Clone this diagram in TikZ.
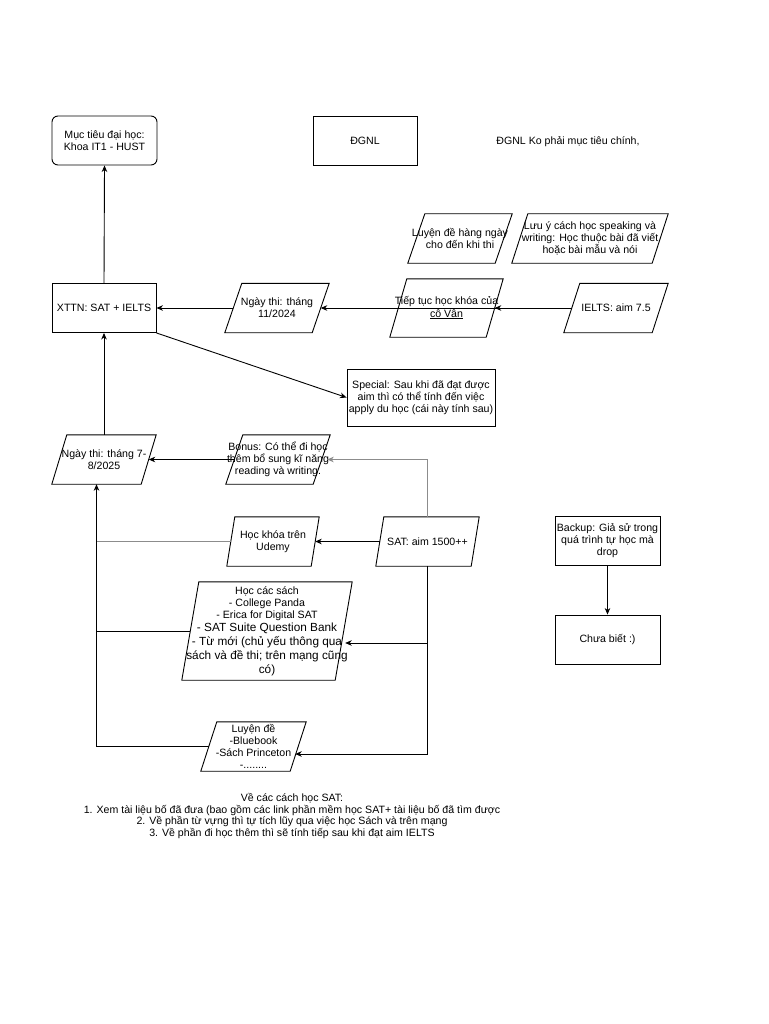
\documentclass[tikz,border=0pt]{standalone}
\usepackage{fontspec}
\setmainfont{Liberation Sans}
\usetikzlibrary{arrows.meta, positioning}

\definecolor{linegray}{HTML}{8C8C8C}

\tikzset{
  box/.style={draw, rectangle, line width=0.9pt, minimum width=104pt, minimum height=49pt, inner sep=0pt, align=center},
  goalbox/.style={box, rounded corners=6pt},
  para/.style={rectangle, minimum width=104pt, minimum height=49pt, inner sep=0pt, align=center},
  flow/.style={-{Stealth[length=6.5pt,width=5.5pt,inset=2pt]}, line width=0.9pt},
  link/.style={line width=0.9pt},
}

\begin{document}
\begin{tikzpicture}[x=1pt, y=-1pt, font=\fontsize{10.6}{12.2}\selectfont]
  \path[use as bounding box, fill=white] (0,0) rectangle (768,1024);

  % Nodes for the goal and the IELTS branch
  \node[goalbox, minimum width=105pt] (goal) at (104.5,140.5) {Mục tiêu đại học:\\Khoa IT1 - HUST};
  \node[box] (dgnl) at (365,140.5) {ĐGNL};
  \node (dgnlnote) at (568,142) {ĐGNL Ko phải mục tiêu chính,};
  \node[para] (dailytest) at (460,238.5) {Luyện đề hàng ngày\\cho đến khi thi};
  \node[para, minimum width=156pt] (speaking) at (590,238.5) {Lưu ý cách học speaking và\\writing: Học thuộc bài đã viết\\hoặc bài mẫu và nói};
  \node[box] (xttn) at (104,308) {XTTN: SAT + IELTS};
  \node[para] (exam24) at (277,308) {Ngày thi: tháng\\11/2024};
  \node[para, minimum width=113pt, minimum height=58pt] (course) at (446.5,308) {\underline{Tiếp tục học khóa của}\\\underline{cô Vân}};
  \node[para] (ielts) at (616,308) {IELTS: aim 7.5};
  \node[box, minimum width=148pt, minimum height=57pt] (special) at (421,397.5) {Special: Sau khi đã đạt được\\aim thì có thể tính đến việc\\apply du học (cái này tính sau)};

  % Nodes for the SAT branch
  \node[para] (exam25) at (104,459.5) {Ngày thi: tháng 7-\\8/2025};
  \node[para] (bonus) at (278,459.5) {Bonus: Có thể đi học\\thêm bổ sung kĩ năng\\reading và writing.};
  \node[para, minimum width=92pt] (udemy) at (273,541.5) {Học khóa trên\\Udemy};
  \node[para, minimum width=103pt] (sat) at (427.5,541.5) {SAT: aim 1500++};
  \node[para, minimum width=170pt, minimum height=98pt] (books) at (267,631) {Học các sách\\- College Panda\\- Erica for Digital SAT\\[1pt]{\fontsize{11.8}{13.5}\selectfont - SAT Suite Question Bank}\\[1.5pt]{\fontsize{11.8}{13.5}\selectfont - Từ mới (chủ yếu thông qua}\\[1.5pt]{\fontsize{11.8}{13.5}\selectfont sách và đề thi; trên mạng cũng}\\[1.5pt]{\fontsize{11.8}{13.5}\selectfont có)}};
  \node[para, minimum width=105pt] (practice) at (253.5,746.5) {Luyện đề\\-Bluebook\\-Sách Princeton\\-........};
  \node[box, minimum width=105pt] (backup) at (607.5,540.5) {Backup: Giả sử trong\\quá trình tự học mà\\drop};
  \node[box, minimum width=105pt] (unknown) at (607.5,639.5) {Chưa biết :)};
  \node[align=center, font=\fontsize{10.6}{11.5}\selectfont] (satnotes) at (292,816) {Về các cách học SAT:\\1. Xem tài liệu bố đã đưa (bao gồm các link phần mềm học SAT+ tài liệu bố đã tìm được\\2. Về phần từ vựng thì tự tích lũy qua việc học Sách và trên mạng\\3. Về phần đi học thêm thì sẽ tính tiếp sau khi đạt aim IELTS};

  % Parallelogram outlines
  \foreach \n/\s in {dailytest/17, speaking/16, exam24/17, course/17, ielts/16, exam25/15, bonus/17, udemy/8, sat/8, books/17, practice/16}
    \draw[link] ([xshift=\s pt]\n.north west) -- (\n.north east) -- ([xshift=-\s pt]\n.south east) -- (\n.south west) -- cycle;

  % Edges
  \path[flow]
    (xttn.north) edge (goal.south)
    ([xshift=8.5pt]exam24.west) edge (xttn.east)
    ([xshift=8.5pt]course.west) edge ([xshift=-8.5pt]exam24.east)
    ([xshift=8pt]ielts.west) edge ([xshift=-8.5pt]course.east)
    (xttn.south east) edge (special.west)
    (exam25.north) edge (xttn.south)
    ([xshift=8.5pt]bonus.west) edge ([xshift=-7.5pt]exam25.east)
    ([xshift=4pt]sat.west) edge ([xshift=-4pt]udemy.east)
    (backup) edge (unknown);

  \draw[flow, linegray] (sat.north) |- ([xshift=-3pt]bonus.east);
  \draw[flow] (sat.south) |- ([xshift=-7pt,yshift=-12pt]books.east);
  \draw[flow] (sat.south) |- ([xshift=-11pt,yshift=-7.5pt]practice.east);

  \coordinate (trunk) at ([xshift=-7.5pt]exam25.south);
  \coordinate (booksleft) at ([xshift=8.5pt]books.west);
  \coordinate (udemyleft) at ([xshift=4pt]udemy.west);
  \draw[flow] ([xshift=8pt]practice.west) -| (trunk);
  \draw[link] (booksleft) -- (booksleft -| trunk);
  \draw[link, linegray] (udemyleft) -- (udemyleft -| trunk);
\end{tikzpicture}
\end{document}
